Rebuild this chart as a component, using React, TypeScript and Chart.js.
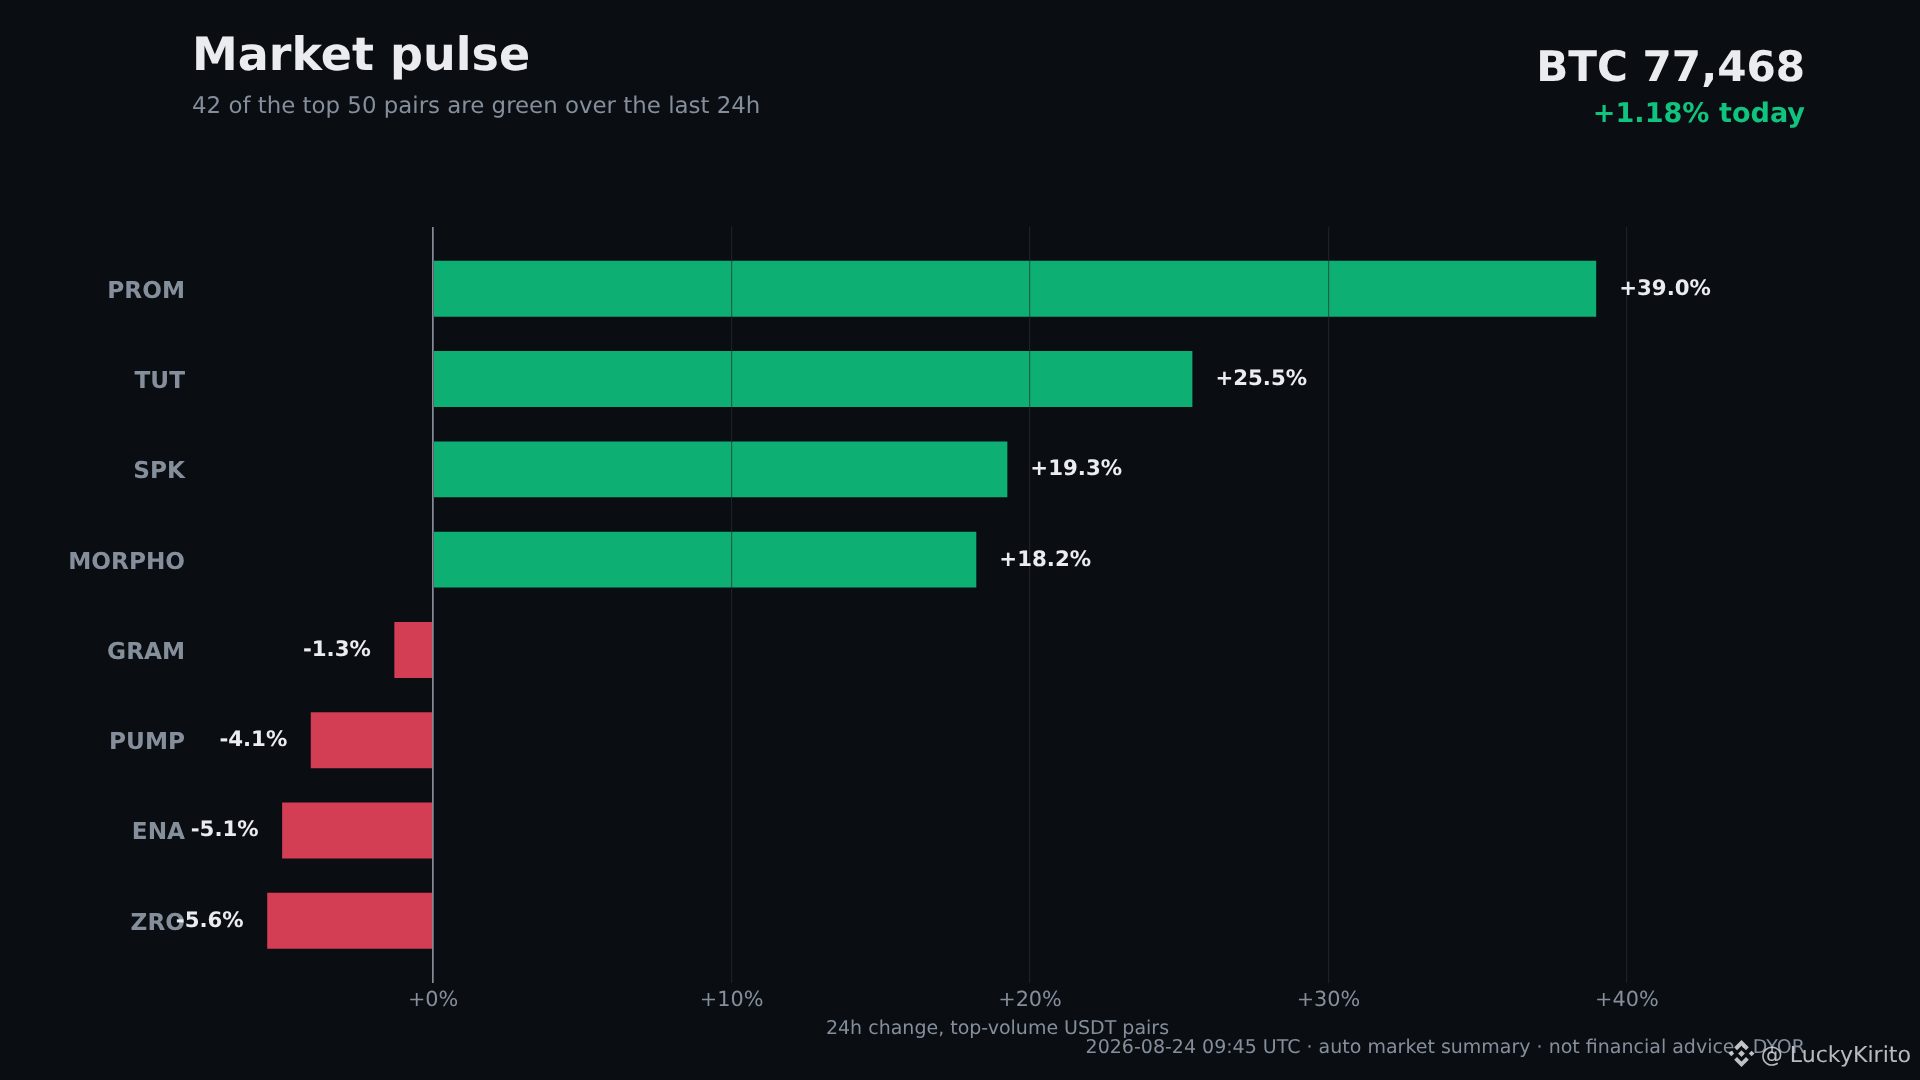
import { useEffect, useRef } from 'react';
import { Chart, registerables } from 'chart.js';

Chart.register(...registerables);

const FONT = '"DejaVu Sans", sans-serif';

const SYMBOLS = ['PROM', 'TUT', 'SPK', 'MORPHO', 'GRAM', 'PUMP', 'ENA', 'ZRO'];
const CHANGES = [38.97, 25.44, 19.24, 18.2, -1.3, -4.1, -5.06, -5.56];
const CHANGE_LABELS = ['+39.0%', '+25.5%', '+19.3%', '+18.2%', '-1.3%', '-4.1%', '-5.1%', '-5.6%'];

const P = {
  bg: '#0a0e12',
  green: '#0eaf72',
  red: '#d33e54',
  grid: 'rgba(42, 47, 54, 0.6)',
  zero: '#858c97',
  ink: '#eaecf0',
  muted: '#858e9b',
  up: '#10c47f'
};

const valueLabels = {
  id: 'valueLabels',
  beforeDraw(chart: Chart) {
    (chart.ctx as any).textRendering = 'geometricPrecision';
  },
  afterDraw(chart: Chart) {
    const { ctx } = chart;
    const bars = chart.getDatasetMeta(0).data;
    ctx.save();
    ctx.font = `bold 21.3px ${FONT}`;
    ctx.fillStyle = P.ink;
    ctx.textBaseline = 'middle';
    bars.forEach((bar, i) => {
      const up = CHANGES[i] >= 0;
      ctx.textAlign = up ? 'left' : 'right';
      ctx.fillText(CHANGE_LABELS[i], bar.x + (up ? 23 : -23.5), bar.y + 0.5);
    });
    ctx.restore();
  }
};

export default function App() {
  const canvasRef = useRef<HTMLCanvasElement | null>(null);

  useEffect(() => {
    document.body.style.margin = '0';
    document.body.style.background = P.bg;
    if (!canvasRef.current) return;

    const chart = new Chart(canvasRef.current, {
      type: 'bar',
      data: {
        datasets: [
          {
            data: CHANGES.map((v, i) => ({ x: v, y: i })),
            backgroundColor: CHANGES.map((v) => (v >= 0 ? P.green : P.red)),
            categoryPercentage: 1,
            barPercentage: 0.62,
            borderWidth: 0
          }
        ]
      },
      options: {
        indexAxis: 'y',
        responsive: false,
        animation: false,
        layout: { padding: { top: 227, right: 117, left: 0, bottom: 40 } },
        plugins: { legend: { display: false }, tooltip: { enabled: false } },
        scales: {
          x: {
            type: 'linear',
            min: -8.08,
            max: 45.9,
            afterFit: (s) => {
              s.height = 57;
            },
            border: { display: false },
            grid: {
              z: 1,
              drawTicks: false,
              color: (c) => (c.tick.value === 0 ? P.zero : P.grid),
              lineWidth: (c) => (c.tick.value === 0 ? 1.7 : 1.2)
            },
            ticks: {
              stepSize: 10,
              includeBounds: false,
              padding: 5,
              maxRotation: 0,
              color: P.muted,
              font: { family: FONT, size: 20.8 },
              callback: (v) => '+' + v + '%'
            },
            title: {
              display: true,
              text: '24h change, top-volume USDT pairs',
              color: P.muted,
              font: { family: FONT, size: 19 },
              padding: { top: 4, bottom: 0 }
            }
          },
          y: {
            type: 'linear',
            reverse: true,
            offset: false,
            min: -0.685,
            max: 7.69,
            afterFit: (s) => {
              s.width = 192;
            },
            border: { display: false },
            grid: { display: false, drawTicks: false },
            ticks: {
              stepSize: 1,
              includeBounds: false,
              autoSkip: false,
              padding: 7,
              labelOffset: 3,
              color: P.muted,
              font: { family: FONT, size: 23.2, weight: 'bold' },
              callback: (v) => SYMBOLS[v as number]
            }
          }
        }
      },
      plugins: [valueLabels]
    });

    return () => chart.destroy();
  }, []);

  const abs = (style: React.CSSProperties): React.CSSProperties => ({
    position: 'absolute',
    whiteSpace: 'nowrap',
    fontFamily: FONT,
    lineHeight: 1,
    textRendering: 'geometricPrecision',
    ...style
  });

  return (
    <div style={{ position: 'relative', width: 1920, height: 1080, background: P.bg, overflow: 'hidden' }}>
      <canvas ref={canvasRef} width={1920} height={1080} style={{ display: 'block' }} />
      <div style={abs({ left: 192, top: 31, fontSize: 46, fontWeight: 700, color: P.ink })}>Market pulse</div>
      <div style={abs({ left: 192, top: 95, fontSize: 22.9, color: P.muted })}>
        42 of the top 50 pairs are green over the last 24h
      </div>
      <div style={abs({ right: 115, top: 46, fontSize: 42.1, fontWeight: 700, color: P.ink })}>BTC 77,468</div>
      <div style={abs({ right: 115, top: 100, fontSize: 27.1, fontWeight: 700, color: P.up })}>+1.18% today</div>
      <div style={abs({ right: 115, top: 1038, fontSize: 19, color: P.muted })}>
        2026-08-24 09:45 UTC · auto market summary · not financial advice · DYOR
      </div>
      <svg
        width="27"
        height="27"
        viewBox="0 0 24 24"
        style={{ position: 'absolute', left: 1728, top: 1040, opacity: 0.85 }}
      >
        <g fill="#dfe2e6">
          <path d="M12 0 L18.5 6.5 L16 9 L12 5 L8 9 L5.5 6.5 Z" />
          <path d="M12 24 L18.5 17.5 L16 15 L12 19 L8 15 L5.5 17.5 Z" />
          <path d="M3 9.5 L5.5 12 L3 14.5 L0.5 12 Z" />
          <path d="M21 9.5 L23.5 12 L21 14.5 L18.5 12 Z" />
          <path d="M12 9 L15 12 L12 15 L9 12 Z" />
        </g>
      </svg>
      <div style={abs({ right: 9, top: 1044, fontSize: 22.1, color: 'rgba(222, 226, 232, 0.82)' })}>@ LuckyKirito</div>
    </div>
  );
}
